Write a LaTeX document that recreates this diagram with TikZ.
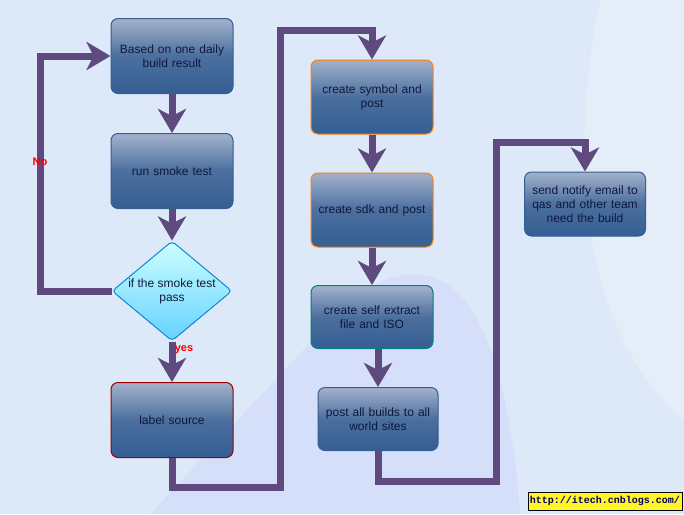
\documentclass[tikz,border=0pt]{standalone}
\usepackage{fontspec}
\setmainfont{Liberation Sans}
\setmonofont{Liberation Mono}
\usetikzlibrary{arrows.meta,shapes.geometric}
\definecolor{bg}{HTML}{DDE8F8}
\definecolor{ln}{HTML}{5E4A7E}
\definecolor{boxtop}{HTML}{A3B2CB}
\definecolor{boxbot}{HTML}{355E93}
\definecolor{txt}{HTML}{10183A}
\tikzset{
  box/.style={rectangle,rounded corners=7pt,minimum width=122pt,text width=118pt,inner xsep=1pt,align=center,
    top color=boxtop,bottom color=boxbot,middle color=boxbot!80!boxtop,draw=boxbot,line width=1pt,
    text=txt,font=\fontsize{12}{14}\selectfont},
  dia/.style={diamond,aspect=1.2,minimum width=120pt,minimum height=100pt,inner sep=0pt,align=center,
    top color=cyan!20,bottom color=cyan!70!blue!60,draw=cyan!70!blue,line width=1pt,
    text=txt,font=\fontsize{12}{14}\selectfont,rounded corners=4pt},
  con/.style={draw=ln,line width=7pt,-{Stealth[length=24pt,width=28pt,inset=7pt]}},
  lab/.style={text=red,font=\bfseries\fontsize{11}{12}\selectfont}
}
\begin{document}
\begin{tikzpicture}[x=1pt,y=-1pt]
\fill[bg] (0,0) rectangle (684,514);
\fill[white,opacity=0.25] (600,0) .. controls (560,200) and (600,350) .. (684,420) -- (684,0) -- cycle;
\fill[blue!30,opacity=0.15] (150,514) -- (350,300) .. controls (420,250) and (500,250) .. (520,514) -- cycle;
\useasboundingbox (0,0) rectangle (684,514);
\node[box,minimum height=75pt] (a) at (172,56) {Based on one daily\\build result};
\node[box,minimum height=75pt] (b) at (172,171) {run smoke test};
\node[dia] (d) at (172,291) {if the smoke test\\pass};
\node[box,minimum height=75pt,draw=red!60!black] (l) at (172,420) {label source};
\node[box,minimum height=74pt,draw=orange] (c1) at (372,97) {create symbol and\\post};
\node[box,minimum height=74pt,draw=orange] (c2) at (372,210) {create sdk and post};
\node[box,minimum height=63pt,draw=teal] (c3) at (372,317) {create self extract\\file and ISO};
\node[box,minimum height=63pt,minimum width=120pt,text width=116pt] (c4) at (378,419) {post all builds to all\\world sites};
\node[box,minimum height=64pt,minimum width=121pt,text width=117pt] (n) at (585,204) {send notify email to\\qas and other team\\need the build};
\coordinate (p1) at (40,291); \coordinate (p2) at (40,56);
\coordinate (q1) at (172,487); \coordinate (q2) at (280,487); \coordinate (q3) at (280,30); \coordinate (q4) at (372,30);
\coordinate (r1) at (378,481); \coordinate (r2) at (496,481); \coordinate (r3) at (496,142); \coordinate (r4) at (585,142);
\path[con] (a) -- (b);
\path[con] (b) -- (d);
\path[con] (d) -- (l) node[lab,pos=0.2,right=-4pt] (yes) {yes};
\path[con] (d.west) -- (p1) -- (p2) node[lab,pos=0.55] (no) {No} -- (a.west);
\path[con] (l.south) -- (q1) -- (q2) -- (q3) -- (q4) -- (c1.north);
\path[con] (c1) -- (c2);
\path[con] (c2) -- (c3);
\path[con] (c3.south -| c4.north) -- (c4.north);
\path[con] (c4.south) -- (r1) -- (r2) -- (r3) -- (r4) -- (n.north);
\node[draw=black,fill=yellow!85!white,text=blue!40!black,font=\ttfamily\bfseries\fontsize{10}{12}\selectfont,
  inner xsep=2pt,inner ysep=2pt,minimum height=18pt] (url) at (605,501) {http://itech.cnblogs.com/};
\end{tikzpicture}
\end{document}
